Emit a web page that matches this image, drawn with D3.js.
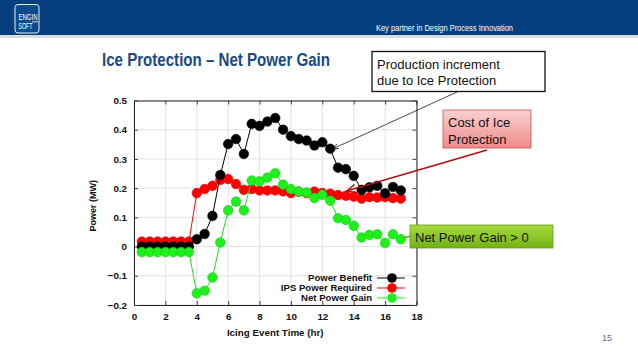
<!DOCTYPE html>
<html><head><meta charset="utf-8">
<script src="https://cdn.jsdelivr.net/npm/d3@7"></script>
<style>
html,body{margin:0;padding:0;background:#fff;}
svg{display:block;}
text{font-family:"Liberation Sans",Arial,sans-serif;}
</style></head>
<body>
<svg id="c" width="638" height="359"></svg>
<script>
// ---- data ----
const times = [0.5,1,1.5,2,2.5,3,3.5,4,4.5,5,5.5,6,6.5,7,7.5,8,8.5,9,9.5,10,10.5,11,11.5,12,12.5,13,13.5,14,14.5,15,15.5,16,16.5,17];
const powerBenefit = [0,0,0,0,0,0,0,0.025,0.043,0.105,0.245,0.351,0.368,0.317,0.42,0.413,0.428,0.44,0.40,0.378,0.368,0.363,0.346,0.357,0.335,0.27,0.265,0.242,0.194,0.203,0.208,0.182,0.204,0.192];
const ipsRequired = [0.017,0.017,0.017,0.017,0.017,0.017,0.017,0.183,0.197,0.208,0.228,0.231,0.214,0.194,0.197,0.192,0.192,0.192,0.189,0.183,0.188,0.183,0.188,0.183,0.181,0.176,0.174,0.171,0.164,0.169,0.168,0.169,0.166,0.164];
const netGain = [-0.019,-0.019,-0.019,-0.019,-0.019,-0.019,-0.019,-0.16,-0.151,-0.106,0.014,0.124,0.154,0.124,0.226,0.223,0.236,0.251,0.212,0.197,0.188,0.185,0.166,0.177,0.157,0.097,0.091,0.071,0.031,0.04,0.042,0.012,0.042,0.025];
const xTicks = [0,2,4,6,8,10,12,14,16,18];
const yTicks = [-0.2,-0.1,0,0.1,0.2,0.3,0.4,0.5];
const seriesNames = ["Power Benefit","IPS Power Required","Net Power Gain"];

const svg = d3.select("#c");

// ---- slide header ----
svg.append("rect").attr("x",0).attr("y",0).attr("width",638).attr("height",35).attr("fill","#063f7e");
svg.append("rect").attr("x",0).attr("y",35).attr("width",638).attr("height",3).attr("fill","#d9dde2");
svg.append("rect").attr("x",15).attr("y",4.5).attr("width",24).attr("height",28.5).attr("rx",3)
  .attr("fill","#0b4a8c").attr("stroke","#e8eef6").attr("stroke-width",1);
svg.append("text").attr("x",28).attr("y",19.5).attr("text-anchor","middle").attr("fill","#fff")
  .attr("font-size",9).attr("textLength",19).attr("lengthAdjust","spacingAndGlyphs").text("ENGIN");
svg.append("text").attr("x",18.5).attr("y",28.5).attr("fill","#fff")
  .attr("font-size",9).attr("textLength",14).attr("lengthAdjust","spacingAndGlyphs").text("SOFT");
svg.append("line").attr("x1",32).attr("x2",38).attr("y1",21.8).attr("y2",21.8).attr("stroke","#fff").attr("stroke-width",0.8);
svg.append("text").attr("x",513).attr("y",31).attr("text-anchor","end").attr("fill","#fff")
  .attr("font-size",9.5).attr("textLength",137).attr("lengthAdjust","spacingAndGlyphs").text("Key partner in Design Process Innovation");

// ---- title ----
svg.append("text").attr("x",102).attr("y",66).attr("fill","#1b4886").attr("font-size",17.5).attr("font-weight","bold")
  .attr("textLength",228).attr("lengthAdjust","spacingAndGlyphs").text("Ice Protection \u2013 Net Power Gain");

// ---- chart ----
const x = d3.scaleLinear().domain([0,18]).range([134,416.5]);
const y = d3.scaleLinear().domain([-0.2,0.5]).range([305,100.5]);
const g = svg.append("g");

// grid
g.selectAll("line.gx").data(xTicks).join("line").attr("class","gx")
  .attr("x1",d=>x(d)).attr("x2",d=>x(d)).attr("y1",y(-0.2)).attr("y2",y(0.5)).attr("stroke","#e2e2e2").attr("stroke-width",1);
g.selectAll("line.gy").data(yTicks).join("line").attr("class","gy")
  .attr("x1",x(0)).attr("x2",x(18)).attr("y1",d=>y(d)).attr("y2",d=>y(d)).attr("stroke","#e2e2e2").attr("stroke-width",1);

// axes (ticks inside, mirrored)
const fmtY = d => d===0 ? "0" : d3.format(".1f")(d);
const axB = g.append("g").attr("transform",`translate(0,${y(-0.2)})`).call(d3.axisBottom(x).tickValues(xTicks).tickSizeInner(-4).tickSizeOuter(0).tickPadding(8));
const axT = g.append("g").attr("transform",`translate(0,${y(0.5)})`).call(d3.axisTop(x).tickValues(xTicks).tickSizeInner(-4).tickSizeOuter(0).tickFormat(""));
const axL = g.append("g").attr("transform",`translate(${x(0)},0)`).call(d3.axisLeft(y).tickValues(yTicks).tickSizeInner(-4).tickSizeOuter(0).tickPadding(7).tickFormat(fmtY));
const axR = g.append("g").attr("transform",`translate(${x(18)},0)`).call(d3.axisRight(y).tickValues(yTicks).tickSizeInner(-4).tickSizeOuter(0).tickFormat(""));
[axB,axT,axL,axR].forEach(a=>{
  a.select(".domain").attr("stroke","#222").attr("stroke-width",1);
  a.selectAll(".tick line").attr("stroke","#444");
  a.selectAll("text").attr("font-family","'Liberation Sans',Arial,sans-serif").attr("font-size",9.8).attr("font-weight","bold").attr("fill","#111");
});

// axis titles
svg.append("text").attr("transform",`translate(96,${(y(-0.2)+y(0.5))/2+3}) rotate(-90)`).attr("text-anchor","middle")
  .attr("font-size",9).attr("font-weight","bold").attr("fill","#111").text("Power (MW)");
svg.append("text").attr("x",(x(0)+x(18))/2).attr("y",336).attr("text-anchor","middle")
  .attr("font-size",9.8).attr("font-weight","bold").attr("fill","#111").text("Icing Event Time (hr)");

// series
const series = [
  {name:seriesNames[1], vals:ipsRequired, line:"#ff0000", fill:"#ff0000", stroke:"#e00000"},
  {name:seriesNames[0], vals:powerBenefit, line:"#000000", fill:"#000000", stroke:"#000000"},
  {name:seriesNames[2], vals:netGain, line:"#22dd22", fill:"#1ef01e", stroke:"#10d010"}
];
const lineGen = d3.line().x(d=>x(d[0])).y(d=>y(d[1]));
series.forEach(s=>{
  const pts = times.map((t,i)=>[t,s.vals[i]]);
  g.append("path").datum(pts).attr("d",lineGen).attr("fill","none").attr("stroke",s.line).attr("stroke-width",1);
  g.selectAll(null).data(pts).join("circle").attr("cx",d=>x(d[0])).attr("cy",d=>y(d[1])).attr("r",4.8)
    .attr("fill",s.fill).attr("stroke",s.stroke).attr("stroke-width",0.6);
});

// legend
const legCols = {"Power Benefit":"#000000","IPS Power Required":"#ff0000","Net Power Gain":"#1ef01e"};
seriesNames.forEach((n,i)=>{
  const ly = 278 + i*10;
  svg.append("text").attr("x",372).attr("y",ly+3.3).attr("text-anchor","end").attr("font-size",9.6).attr("font-weight","bold").attr("fill","#111").text(n);
  svg.append("line").attr("x1",377).attr("x2",405).attr("y1",ly).attr("y2",ly).attr("stroke",legCols[n]).attr("stroke-width",1);
  svg.append("circle").attr("cx",392).attr("cy",ly).attr("r",4.8).attr("fill",legCols[n]);
});

// ---- annotations ----
const defs = svg.append("defs");
function marker(id,col){
  defs.append("marker").attr("id",id).attr("viewBox","0 0 10 10").attr("refX",9).attr("refY",5)
    .attr("markerWidth",7).attr("markerHeight",7).attr("orient","auto-start-reverse")
    .append("path").attr("d","M0,1 L9,5 L0,9").attr("fill","none").attr("stroke",col).attr("stroke-width",1.3);
}
marker("ab","#222");
marker("ar","#b01010");
const gp = defs.append("linearGradient").attr("id","gpink").attr("x1",0).attr("x2",0).attr("y1",0).attr("y2",1);
gp.append("stop").attr("offset","0%").attr("stop-color","#fbd0d0");
gp.append("stop").attr("offset","100%").attr("stop-color","#f08a8a");
const gg = defs.append("linearGradient").attr("id","ggreen").attr("x1",0).attr("x2",0).attr("y1",0).attr("y2",1);
gg.append("stop").attr("offset","0%").attr("stop-color","#a8dc3c");
gg.append("stop").attr("offset","100%").attr("stop-color","#72b214");

// Production increment
svg.append("line").attr("x1",457).attr("y1",92).attr("x2",x(12.55)+2).attr("y2",y(0.335)).attr("stroke","#333").attr("stroke-width",0.9).attr("marker-end","url(#ab)");
svg.append("rect").attr("x",372).attr("y",51.5).attr("width",173).attr("height",40).attr("fill","#fff").attr("stroke","#111").attr("stroke-width",1.3);
svg.append("text").attr("x",377).attr("y",68.5).attr("font-size",13).attr("fill","#111").text("Production increment");
svg.append("text").attr("x",377).attr("y",84.5).attr("font-size",13).attr("fill","#111").text("due to Ice Protection");

// Cost of Ice Protection
svg.append("line").attr("x1",487).attr("y1",150).attr("x2",x(13.55)).attr("y2",y(0.19)).attr("stroke","#b01010").attr("stroke-width",1.5).attr("marker-end","url(#ar)");
svg.append("rect").attr("x",443).attr("y",110).attr("width",88).attr("height",38).attr("fill","url(#gpink)").attr("stroke","#c85050").attr("stroke-width",0.8);
svg.append("text").attr("x",448).attr("y",127).attr("font-size",13).attr("fill","#111").text("Cost of Ice");
svg.append("text").attr("x",448).attr("y",143.5).attr("font-size",13).attr("fill","#111").text("Protection");

// Net Power Gain > 0
svg.append("line").attr("x1",411).attr("y1",236).attr("x2",x(17)+3).attr("y2",y(0.03)).attr("stroke","#6aa81a").attr("stroke-width",1.5);
svg.append("rect").attr("x",410).attr("y",225).attr("width",143).attr("height",23).attr("fill","url(#ggreen)").attr("stroke","#6a9a1a").attr("stroke-width",0.8);
svg.append("text").attr("x",415).attr("y",241.5).attr("font-size",13).attr("fill","#111").text("Net Power Gain > 0");

// page number
svg.append("text").attr("x",607).attr("y",340.5).attr("text-anchor","middle").attr("font-size",9).attr("fill","#5a6f8a").text("15");
</script>
</body></html>
